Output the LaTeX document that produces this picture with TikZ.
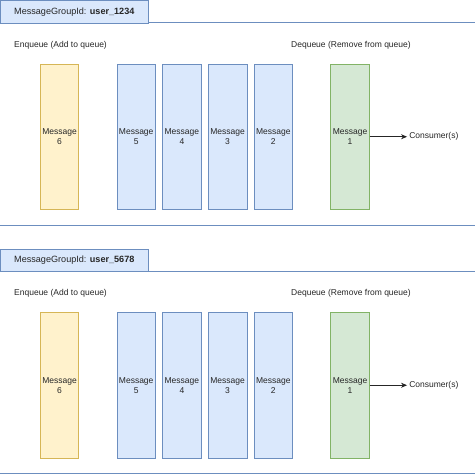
\documentclass[tikz,border=0pt]{standalone}
\usepackage{fontspec}
\setmainfont{Liberation Sans}
\usepackage{xcolor}
\usetikzlibrary{arrows.meta,positioning}
\definecolor{QBlueFill}{HTML}{DAE8FC}
\definecolor{QBlueLine}{HTML}{6C8EBF}
\definecolor{QYellowFill}{HTML}{FFF2CC}
\definecolor{QYellowLine}{HTML}{D6B656}
\definecolor{QGreenFill}{HTML}{D5E8D4}
\definecolor{QGreenLine}{HTML}{82B366}

\begin{document}
\begin{tikzpicture}[x=1pt,y=-1pt,node distance=6.6pt,every node/.style={font=\fontsize{8.5}{10}\selectfont,align=center,text=black!85},msg/.style={line width=0.6pt,minimum width=38.5pt,minimum height=145.5pt,inner sep=0pt},newmsg/.style={msg,draw=QYellowLine,fill=QYellowFill},queued/.style={msg,draw=QBlueLine,fill=QBlueFill},front/.style={msg,draw=QGreenLine,fill=QGreenFill},frame/.style={draw=QBlueLine,line width=0.6pt},tab/.style={draw=QBlueLine,fill=QBlueFill,line width=0.6pt,minimum width=148pt,minimum height=22.7pt,inner sep=0pt,anchor=north west,font=\fontsize{9.1}{11}\selectfont},caption/.style={anchor=west,inner sep=0pt},arrow/.style={-{Stealth[length=6pt,width=5pt]},line width=0.8pt,black!85}]
\useasboundingbox (0,0) rectangle (474,476);
\foreach \g/\id/\dy in {a/1234/0,b/5678/248.5}{
\begin{scope}[yshift=-\dy pt]
\draw[frame] (-2,22.7) rectangle (476,225);
\node[tab] (tab-\g) at (0,0) {MessageGroupId: \textbf{user\_\id}};
\node[caption] (enq-\g) at (14,45) {Enqueue (Add to queue)};
\node[caption] (deq-\g) at (291,45) {Dequeue (Remove from queue)};
% queue, newest on the left
\node[newmsg] (m6-\g) at (59.5,136.75) {Message\\6};
\node[queued,right=37.6pt of m6-\g] (m5-\g) {Message\\5};
\node[queued,right=of m5-\g] (m4-\g) {Message\\4};
\node[queued,right=of m4-\g] (m3-\g) {Message\\3};
\node[queued,right=of m3-\g] (m2-\g) {Message\\2};
\node[front,right=37.6pt of m2-\g] (m1-\g) {Message\\1};
\node[caption,inner xsep=2pt,right=37.5pt of m1-\g] (cons-\g) {Consumer(s)};
\draw[arrow] (m1-\g) -- (cons-\g);
\end{scope}
}
\end{tikzpicture}
\end{document}
